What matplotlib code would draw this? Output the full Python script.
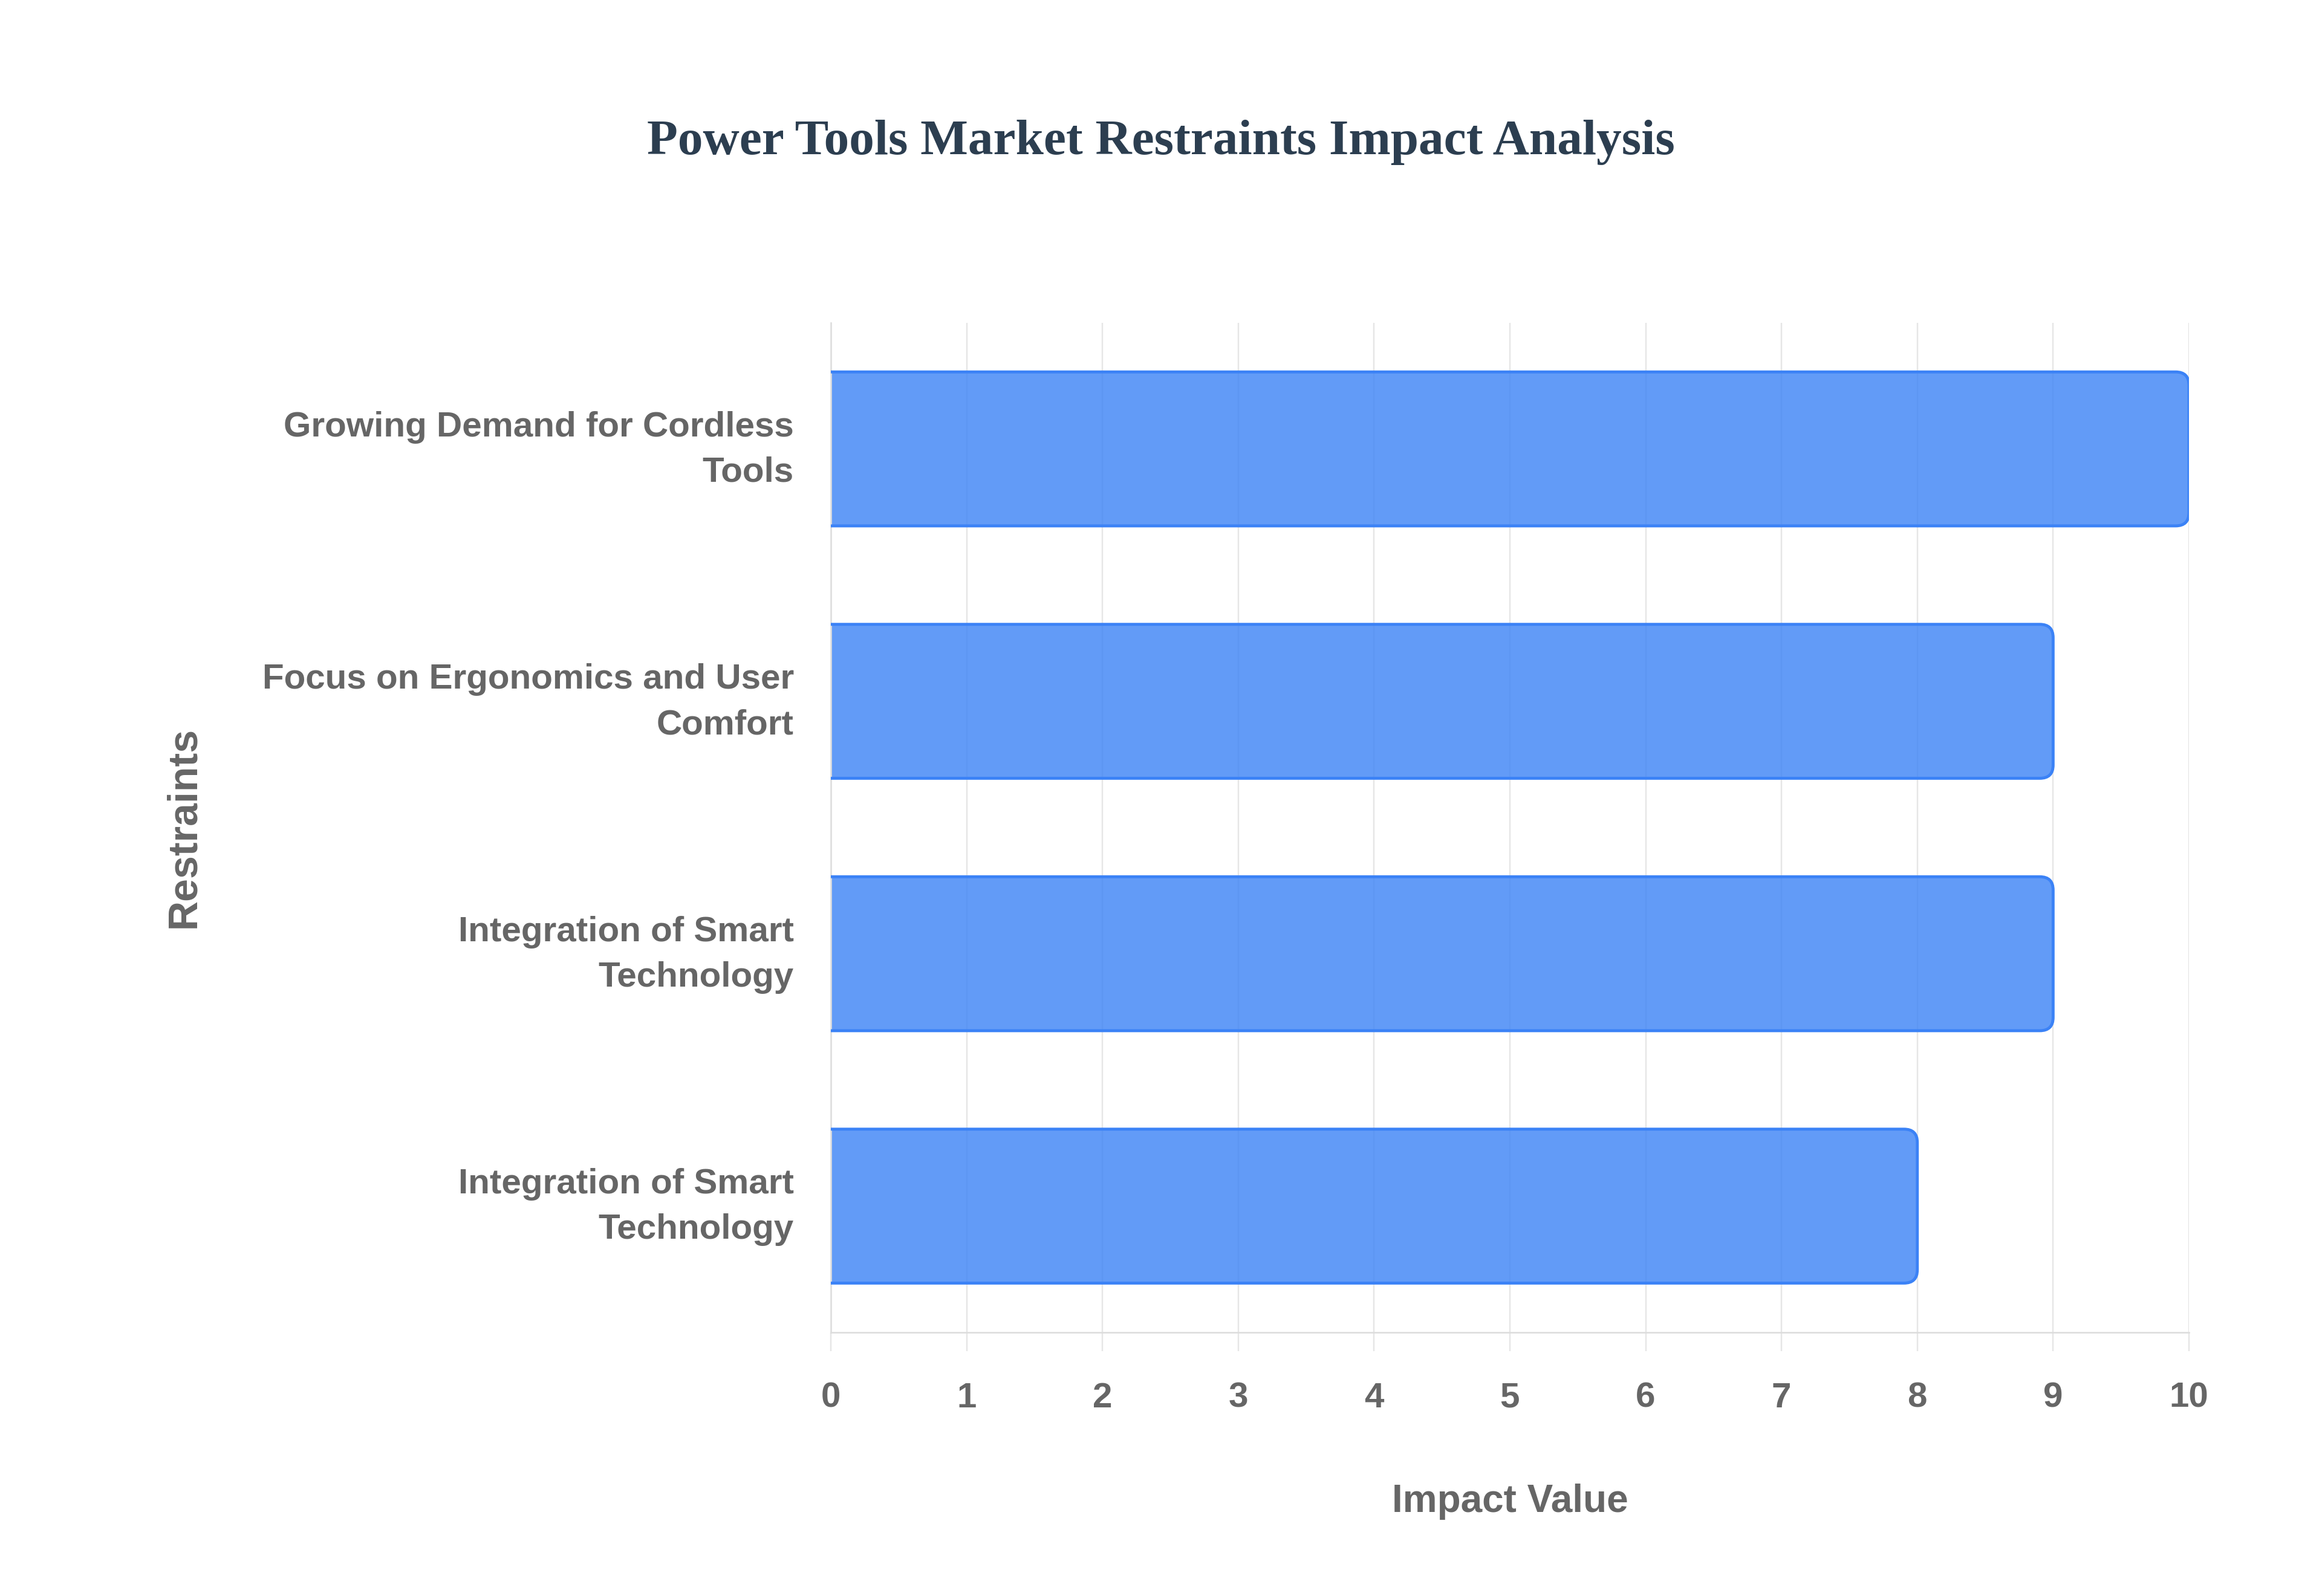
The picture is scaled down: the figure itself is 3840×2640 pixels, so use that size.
import textwrap
import numpy as np
import matplotlib.pyplot as plt
from matplotlib.path import Path
from matplotlib.patches import PathPatch
from matplotlib.transforms import ScaledTranslation

restraints = [
    "Growing Demand for Cordless Tools",
    "Focus on Ergonomics and User Comfort",
    "Integration of Smart Technology",
    "Integration of Smart Technology",
]
impact = [10, 9, 9, 8]
x_ticks = list(range(0, 11))

fill_color = (59 / 255, 130 / 255, 246 / 255, 0.8)
edge_color = "#3b82f6"
grid_color = "#e6e6e6"
text_color = "#666666"

fig = plt.figure(figsize=(38.4, 26.4), dpi=100)
ax = fig.add_axes([0.3578, 0.1652, 0.5849, 0.6326])

pos = np.arange(len(restraints))
bar_h = 0.61
ax.set_xlim(0, 10)
ax.set_ylim(len(restraints) - 0.5, -0.5)

# pixel radius -> data units for the rounded bar ends
p0 = ax.transData.transform((0, 0))
p1 = ax.transData.transform((1, 1))
r_px = 22
rx = r_px / abs(p1[0] - p0[0])
ry = r_px / abs(p1[1] - p0[1])

for y, v in zip(pos, impact):
    yb, yt = y - bar_h / 2, y + bar_h / 2
    verts = [(0, yb), (v - rx, yb), (v, yb), (v, yb + ry), (v, yt - ry),
             (v, yt), (v - rx, yt), (0, yt)]
    codes = [Path.MOVETO, Path.LINETO, Path.CURVE3, Path.CURVE3, Path.LINETO,
             Path.CURVE3, Path.CURVE3, Path.LINETO]
    ax.add_patch(PathPatch(Path(verts + [(0, yb)], codes + [Path.CLOSEPOLY]),
                           facecolor=fill_color, edgecolor="none", zorder=2))
    ax.add_patch(PathPatch(Path(verts, codes), facecolor="none",
                           edgecolor=edge_color, linewidth=3.5, zorder=3,
                           capstyle="butt", joinstyle="round"))

ax.set_yticks(pos)
ax.set_yticklabels([textwrap.fill(s, 28) for s in restraints],
                   fontsize=42, fontweight="bold", color=text_color,
                   family="Liberation Sans", multialignment="right",
                   linespacing=1.5)
ax.set_xticks(x_ticks)
ax.set_xticklabels([str(t) for t in x_ticks], fontsize=42, fontweight="bold",
                   color=text_color, family="Liberation Sans")
ax.tick_params(axis="y", length=0, pad=44)
ax.tick_params(axis="x", length=22, width=1.76, color=grid_color, pad=37)

# nudge the two-line labels up so they sit centred on the bars
shift = ScaledTranslation(0, 0.15, fig.dpi_scale_trans)
for lbl in ax.get_yticklabels():
    lbl.set_transform(lbl.get_transform() + shift)

ax.grid(axis="x", color=grid_color, linewidth=1.76)
ax.set_axisbelow(True)
for side in ["top", "right"]:
    ax.spines[side].set_visible(False)
for side in ["left", "bottom"]:
    ax.spines[side].set_color("#dddddd")
    ax.spines[side].set_linewidth(1.9)

ax.set_xlabel("Impact Value", fontsize=46, fontweight="bold", color=text_color,
              family="Liberation Sans")
ax.xaxis.label.set_va("center")
ax.xaxis.set_label_coords(0.5, -0.168)
ax.set_ylabel("Restraints", fontsize=49, fontweight="bold", color=text_color,
              family="Liberation Sans")
ax.yaxis.label.set_va("center")
ax.yaxis.set_label_coords(-0.4764, 0.5)

fig.text(0.5, 0.9108, "Power Tools Market Restraints Impact Analysis",
         ha="center", va="center", fontsize=60, fontweight="bold",
         color="#2c3e50", family="Liberation Serif")

fig.savefig("out.png", dpi=100, facecolor="white")
